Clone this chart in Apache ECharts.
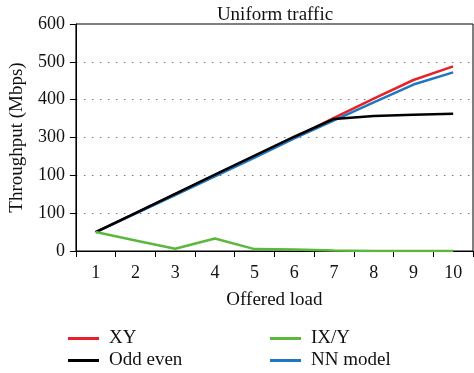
<!DOCTYPE html>
<html><head><meta charset="utf-8">
<script src="https://cdn.jsdelivr.net/npm/echarts@6/dist/echarts.min.js"></script>
<style>html,body{margin:0;padding:0;background:#fff}#c{width:474px;height:373px}</style>
</head><body><div id="c"></div>
<script>
var categories = ['1','2','3','4','5','6','7','8','9','10'];
var yTickLabels = ['0','100','100','300','400','500','600'];
var seriesNames = ['XY', 'Odd even', 'IX/Y', 'NN model'];
var xyData = [50, 100, 150, 200, 250, 300, 352, 403, 452, 488];
var oddEvenData = [50, 100, 151, 202, 252, 302, 349, 357, 360, 363];
var ixyData = [50, 28, 6, 33, 5, 4, 1, 0, 0, 0];
var nnData = [50, 99, 148, 197, 247, 298, 345, 393, 440, 472];

var F = 'Liberation Serif, DejaVu Serif, serif';
var legendPos = [[68, 329], [68, 351], [270, 329], [270, 351]];
var legends = seriesNames.map(function(n, i){
  return {orient: 'horizontal', left: legendPos[i][0], top: legendPos[i][1],
    itemWidth: 31, itemHeight: 3, icon: 'rect', data: [n], padding: 0,
    textStyle: {fontFamily: F, fontSize: 19, color: '#111', padding: [0,0,0,5]}};
});
var chart = echarts.init(document.getElementById('c'));
chart.setOption({
  animation: false,
  title: {text: 'Uniform traffic', left: 270, top: 1, textAlign: 'center',
    textStyle: {fontFamily: F, fontSize: 19, fontWeight: 'normal', color: '#111'}},
  grid: {left: 68, right: 1, top: 24, bottom: 122, show: true, borderColor: '#000', borderWidth: 1},
  xAxis: {type: 'category', data: categories, boundaryGap: true,
    name: 'Offered load', nameLocation: 'middle', nameGap: 40,
    nameTextStyle: {fontFamily: F, fontSize: 19, color: '#111'},
    axisLine: {lineStyle: {color: '#000', width: 1}},
    axisTick: {show: true, length: 6, inside: false, lineStyle: {color: '#000'}},
    axisLabel: {fontFamily: F, fontSize: 18, color: '#111', margin: 13},
    splitLine: {show: false}},
  yAxis: {type: 'value', min: 0, max: 600, interval: 100,
    name: 'Throughput (Mbps)', nameLocation: 'middle', nameGap: 46,
    nameTextStyle: {fontFamily: F, fontSize: 19, color: '#111'},
    axisLine: {show: true, lineStyle: {color: '#000', width: 1}},
    axisTick: {show: true, length: 6, lineStyle: {color: '#000'}},
    axisLabel: {fontFamily: F, fontSize: 18, color: '#111', margin: 11,
      formatter: function(v){ return yTickLabels[Math.round(v/100)]; }},
    splitLine: {show: true, lineStyle: {color: '#777', type: [1.5, 6.5], width: 1.2}}},
  legend: legends,
  series: [
    {name: 'XY', type: 'line', data: xyData, symbol: 'none', color: '#e8202a', lineStyle: {width: 2.5}},
    {name: 'NN model', type: 'line', data: nnData, symbol: 'none', color: '#1f77c0', lineStyle: {width: 2.5}},
    {name: 'Odd even', type: 'line', data: oddEvenData, symbol: 'none', color: '#000000', lineStyle: {width: 2.5}},
    {name: 'IX/Y', type: 'line', data: ixyData, symbol: 'none', color: '#5cb83c', lineStyle: {width: 2.5}}
  ]
});
</script></body></html>
